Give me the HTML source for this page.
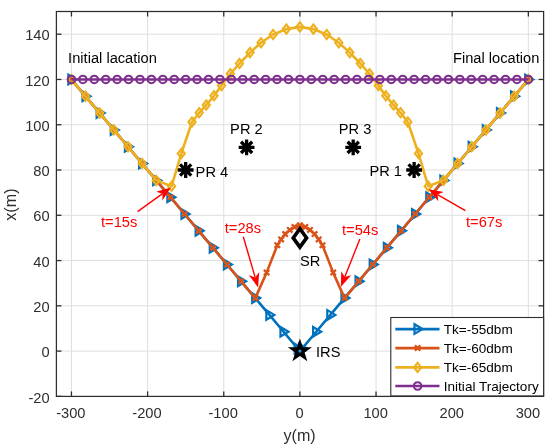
<!DOCTYPE html>
<html><head><meta charset="utf-8"><title>Trajectory</title>
<style>
html,body{margin:0;padding:0;background:#fff;}
svg{display:block}
text{font-family:"Liberation Sans",sans-serif;}
</style></head><body>
<svg width="550" height="445" viewBox="0 0 550 445">
<defs><clipPath id="ax"><rect x="50.4" y="11.5" width="499.20000000000005" height="384.9"/></clipPath></defs>
<rect width="550" height="445" fill="#fff"/>
<line x1="71.45" y1="11.5" x2="71.45" y2="396.4" stroke="#dfdfdf" stroke-width="1"/>
<line x1="147.60" y1="11.5" x2="147.60" y2="396.4" stroke="#dfdfdf" stroke-width="1"/>
<line x1="223.75" y1="11.5" x2="223.75" y2="396.4" stroke="#dfdfdf" stroke-width="1"/>
<line x1="299.90" y1="11.5" x2="299.90" y2="396.4" stroke="#dfdfdf" stroke-width="1"/>
<line x1="376.05" y1="11.5" x2="376.05" y2="396.4" stroke="#dfdfdf" stroke-width="1"/>
<line x1="452.20" y1="11.5" x2="452.20" y2="396.4" stroke="#dfdfdf" stroke-width="1"/>
<line x1="528.35" y1="11.5" x2="528.35" y2="396.4" stroke="#dfdfdf" stroke-width="1"/>
<line x1="56.4" y1="351.10" x2="543.6" y2="351.10" stroke="#dfdfdf" stroke-width="1"/>
<line x1="56.4" y1="305.83" x2="543.6" y2="305.83" stroke="#dfdfdf" stroke-width="1"/>
<line x1="56.4" y1="260.56" x2="543.6" y2="260.56" stroke="#dfdfdf" stroke-width="1"/>
<line x1="56.4" y1="215.28" x2="543.6" y2="215.28" stroke="#dfdfdf" stroke-width="1"/>
<line x1="56.4" y1="170.01" x2="543.6" y2="170.01" stroke="#dfdfdf" stroke-width="1"/>
<line x1="56.4" y1="124.74" x2="543.6" y2="124.74" stroke="#dfdfdf" stroke-width="1"/>
<line x1="56.4" y1="79.47" x2="543.6" y2="79.47" stroke="#dfdfdf" stroke-width="1"/>
<line x1="56.4" y1="34.20" x2="543.6" y2="34.20" stroke="#dfdfdf" stroke-width="1"/>
<g clip-path="url(#ax)">
<polyline points="71.45,79.47 85.59,96.29 99.73,113.11 113.87,129.92 128.01,146.74 142.16,163.56 156.30,180.38 170.44,197.20 184.58,214.02 198.72,230.83 212.86,247.65 227.00,264.47 241.14,281.29 255.28,298.11 269.42,314.93 283.57,331.75 297.71,348.56 299.90,351.10 302.09,348.56 316.23,331.75 330.38,314.93 344.52,298.11 358.66,281.29 372.80,264.47 386.94,247.65 401.08,230.83 415.22,214.02 429.36,197.20 443.50,180.38 457.64,163.56 471.79,146.74 485.93,129.92 500.07,113.11 514.21,96.29 528.35,79.47" fill="none" stroke="#0072BD" stroke-width="2.6" stroke-linejoin="round"/>
<path d="M68.35,74.67 L76.40,79.47 L68.35,84.27 Z" fill="none" stroke="#0072BD" stroke-width="2.2" stroke-linejoin="miter"/>
<path d="M82.49,91.49 L90.54,96.29 L82.49,101.09 Z" fill="none" stroke="#0072BD" stroke-width="2.2" stroke-linejoin="miter"/>
<path d="M96.63,108.31 L104.68,113.11 L96.63,117.91 Z" fill="none" stroke="#0072BD" stroke-width="2.2" stroke-linejoin="miter"/>
<path d="M110.77,125.12 L118.82,129.92 L110.77,134.72 Z" fill="none" stroke="#0072BD" stroke-width="2.2" stroke-linejoin="miter"/>
<path d="M124.91,141.94 L132.96,146.74 L124.91,151.54 Z" fill="none" stroke="#0072BD" stroke-width="2.2" stroke-linejoin="miter"/>
<path d="M139.06,158.76 L147.11,163.56 L139.06,168.36 Z" fill="none" stroke="#0072BD" stroke-width="2.2" stroke-linejoin="miter"/>
<path d="M153.20,175.58 L161.25,180.38 L153.20,185.18 Z" fill="none" stroke="#0072BD" stroke-width="2.2" stroke-linejoin="miter"/>
<path d="M167.34,192.40 L175.39,197.20 L167.34,202.00 Z" fill="none" stroke="#0072BD" stroke-width="2.2" stroke-linejoin="miter"/>
<path d="M181.48,209.22 L189.53,214.02 L181.48,218.82 Z" fill="none" stroke="#0072BD" stroke-width="2.2" stroke-linejoin="miter"/>
<path d="M195.62,226.03 L203.67,230.83 L195.62,235.63 Z" fill="none" stroke="#0072BD" stroke-width="2.2" stroke-linejoin="miter"/>
<path d="M209.76,242.85 L217.81,247.65 L209.76,252.45 Z" fill="none" stroke="#0072BD" stroke-width="2.2" stroke-linejoin="miter"/>
<path d="M223.90,259.67 L231.95,264.47 L223.90,269.27 Z" fill="none" stroke="#0072BD" stroke-width="2.2" stroke-linejoin="miter"/>
<path d="M238.04,276.49 L246.09,281.29 L238.04,286.09 Z" fill="none" stroke="#0072BD" stroke-width="2.2" stroke-linejoin="miter"/>
<path d="M252.18,293.31 L260.23,298.11 L252.18,302.91 Z" fill="none" stroke="#0072BD" stroke-width="2.2" stroke-linejoin="miter"/>
<path d="M266.32,310.13 L274.37,314.93 L266.32,319.73 Z" fill="none" stroke="#0072BD" stroke-width="2.2" stroke-linejoin="miter"/>
<path d="M280.47,326.95 L288.52,331.75 L280.47,336.55 Z" fill="none" stroke="#0072BD" stroke-width="2.2" stroke-linejoin="miter"/>
<path d="M294.61,343.76 L302.66,348.56 L294.61,353.36 Z" fill="none" stroke="#0072BD" stroke-width="2.2" stroke-linejoin="miter"/>
<path d="M296.80,346.30 L304.85,351.10 L296.80,355.90 Z" fill="none" stroke="#0072BD" stroke-width="2.2" stroke-linejoin="miter"/>
<path d="M298.99,343.76 L307.04,348.56 L298.99,353.36 Z" fill="none" stroke="#0072BD" stroke-width="2.2" stroke-linejoin="miter"/>
<path d="M313.13,326.95 L321.18,331.75 L313.13,336.55 Z" fill="none" stroke="#0072BD" stroke-width="2.2" stroke-linejoin="miter"/>
<path d="M327.28,310.13 L335.33,314.93 L327.28,319.73 Z" fill="none" stroke="#0072BD" stroke-width="2.2" stroke-linejoin="miter"/>
<path d="M341.42,293.31 L349.47,298.11 L341.42,302.91 Z" fill="none" stroke="#0072BD" stroke-width="2.2" stroke-linejoin="miter"/>
<path d="M355.56,276.49 L363.61,281.29 L355.56,286.09 Z" fill="none" stroke="#0072BD" stroke-width="2.2" stroke-linejoin="miter"/>
<path d="M369.70,259.67 L377.75,264.47 L369.70,269.27 Z" fill="none" stroke="#0072BD" stroke-width="2.2" stroke-linejoin="miter"/>
<path d="M383.84,242.85 L391.89,247.65 L383.84,252.45 Z" fill="none" stroke="#0072BD" stroke-width="2.2" stroke-linejoin="miter"/>
<path d="M397.98,226.03 L406.03,230.83 L397.98,235.63 Z" fill="none" stroke="#0072BD" stroke-width="2.2" stroke-linejoin="miter"/>
<path d="M412.12,209.22 L420.17,214.02 L412.12,218.82 Z" fill="none" stroke="#0072BD" stroke-width="2.2" stroke-linejoin="miter"/>
<path d="M426.26,192.40 L434.31,197.20 L426.26,202.00 Z" fill="none" stroke="#0072BD" stroke-width="2.2" stroke-linejoin="miter"/>
<path d="M440.40,175.58 L448.45,180.38 L440.40,185.18 Z" fill="none" stroke="#0072BD" stroke-width="2.2" stroke-linejoin="miter"/>
<path d="M454.54,158.76 L462.59,163.56 L454.54,168.36 Z" fill="none" stroke="#0072BD" stroke-width="2.2" stroke-linejoin="miter"/>
<path d="M468.69,141.94 L476.74,146.74 L468.69,151.54 Z" fill="none" stroke="#0072BD" stroke-width="2.2" stroke-linejoin="miter"/>
<path d="M482.83,125.12 L490.88,129.92 L482.83,134.72 Z" fill="none" stroke="#0072BD" stroke-width="2.2" stroke-linejoin="miter"/>
<path d="M496.97,108.31 L505.02,113.11 L496.97,117.91 Z" fill="none" stroke="#0072BD" stroke-width="2.2" stroke-linejoin="miter"/>
<path d="M511.11,91.49 L519.16,96.29 L511.11,101.09 Z" fill="none" stroke="#0072BD" stroke-width="2.2" stroke-linejoin="miter"/>
<path d="M525.25,74.67 L533.30,79.47 L525.25,84.27 Z" fill="none" stroke="#0072BD" stroke-width="2.2" stroke-linejoin="miter"/>
<polyline points="71.45,79.47 85.59,96.29 99.73,113.11 113.87,129.92 128.01,146.74 142.16,163.56 156.30,180.38 170.44,197.20 184.58,214.02 198.72,230.83 212.86,247.65 227.00,264.47 241.14,281.29 255.28,298.11 266.60,272.60 277.30,245.20 281.10,239.40 285.20,234.10 289.80,229.90 294.50,226.90 299.90,225.30 305.30,226.90 310.00,229.90 314.60,234.10 318.70,239.40 322.50,245.20 333.20,272.60 344.52,298.11 358.66,281.29 372.80,264.47 386.94,247.65 401.08,230.83 415.22,214.02 429.36,197.20 443.50,180.38 457.64,163.56 471.79,146.74 485.93,129.92 500.07,113.11 514.21,96.29 528.35,79.47" fill="none" stroke="#D95319" stroke-width="2.6" stroke-linejoin="round"/>
<path d="M68.75,76.77 L74.15,82.17 M68.75,82.17 L74.15,76.77" fill="none" stroke="#D95319" stroke-width="2.3"/>
<path d="M82.89,93.59 L88.29,98.99 M82.89,98.99 L88.29,93.59" fill="none" stroke="#D95319" stroke-width="2.3"/>
<path d="M97.03,110.41 L102.43,115.81 M97.03,115.81 L102.43,110.41" fill="none" stroke="#D95319" stroke-width="2.3"/>
<path d="M111.17,127.22 L116.57,132.62 M111.17,132.62 L116.57,127.22" fill="none" stroke="#D95319" stroke-width="2.3"/>
<path d="M125.31,144.04 L130.71,149.44 M125.31,149.44 L130.71,144.04" fill="none" stroke="#D95319" stroke-width="2.3"/>
<path d="M139.46,160.86 L144.86,166.26 M139.46,166.26 L144.86,160.86" fill="none" stroke="#D95319" stroke-width="2.3"/>
<path d="M153.60,177.68 L159.00,183.08 M153.60,183.08 L159.00,177.68" fill="none" stroke="#D95319" stroke-width="2.3"/>
<path d="M167.74,194.50 L173.14,199.90 M167.74,199.90 L173.14,194.50" fill="none" stroke="#D95319" stroke-width="2.3"/>
<path d="M181.88,211.32 L187.28,216.72 M181.88,216.72 L187.28,211.32" fill="none" stroke="#D95319" stroke-width="2.3"/>
<path d="M196.02,228.13 L201.42,233.53 M196.02,233.53 L201.42,228.13" fill="none" stroke="#D95319" stroke-width="2.3"/>
<path d="M210.16,244.95 L215.56,250.35 M210.16,250.35 L215.56,244.95" fill="none" stroke="#D95319" stroke-width="2.3"/>
<path d="M224.30,261.77 L229.70,267.17 M224.30,267.17 L229.70,261.77" fill="none" stroke="#D95319" stroke-width="2.3"/>
<path d="M238.44,278.59 L243.84,283.99 M238.44,283.99 L243.84,278.59" fill="none" stroke="#D95319" stroke-width="2.3"/>
<path d="M252.58,295.41 L257.98,300.81 M252.58,300.81 L257.98,295.41" fill="none" stroke="#D95319" stroke-width="2.3"/>
<path d="M263.90,269.90 L269.30,275.30 M263.90,275.30 L269.30,269.90" fill="none" stroke="#D95319" stroke-width="2.3"/>
<path d="M274.60,242.50 L280.00,247.90 M274.60,247.90 L280.00,242.50" fill="none" stroke="#D95319" stroke-width="2.3"/>
<path d="M278.40,236.70 L283.80,242.10 M278.40,242.10 L283.80,236.70" fill="none" stroke="#D95319" stroke-width="2.3"/>
<path d="M282.50,231.40 L287.90,236.80 M282.50,236.80 L287.90,231.40" fill="none" stroke="#D95319" stroke-width="2.3"/>
<path d="M287.10,227.20 L292.50,232.60 M287.10,232.60 L292.50,227.20" fill="none" stroke="#D95319" stroke-width="2.3"/>
<path d="M291.80,224.20 L297.20,229.60 M291.80,229.60 L297.20,224.20" fill="none" stroke="#D95319" stroke-width="2.3"/>
<path d="M297.20,222.60 L302.60,228.00 M297.20,228.00 L302.60,222.60" fill="none" stroke="#D95319" stroke-width="2.3"/>
<path d="M302.60,224.20 L308.00,229.60 M302.60,229.60 L308.00,224.20" fill="none" stroke="#D95319" stroke-width="2.3"/>
<path d="M307.30,227.20 L312.70,232.60 M307.30,232.60 L312.70,227.20" fill="none" stroke="#D95319" stroke-width="2.3"/>
<path d="M311.90,231.40 L317.30,236.80 M311.90,236.80 L317.30,231.40" fill="none" stroke="#D95319" stroke-width="2.3"/>
<path d="M316.00,236.70 L321.40,242.10 M316.00,242.10 L321.40,236.70" fill="none" stroke="#D95319" stroke-width="2.3"/>
<path d="M319.80,242.50 L325.20,247.90 M319.80,247.90 L325.20,242.50" fill="none" stroke="#D95319" stroke-width="2.3"/>
<path d="M330.50,269.90 L335.90,275.30 M330.50,275.30 L335.90,269.90" fill="none" stroke="#D95319" stroke-width="2.3"/>
<path d="M341.82,295.41 L347.22,300.81 M341.82,300.81 L347.22,295.41" fill="none" stroke="#D95319" stroke-width="2.3"/>
<path d="M355.96,278.59 L361.36,283.99 M355.96,283.99 L361.36,278.59" fill="none" stroke="#D95319" stroke-width="2.3"/>
<path d="M370.10,261.77 L375.50,267.17 M370.10,267.17 L375.50,261.77" fill="none" stroke="#D95319" stroke-width="2.3"/>
<path d="M384.24,244.95 L389.64,250.35 M384.24,250.35 L389.64,244.95" fill="none" stroke="#D95319" stroke-width="2.3"/>
<path d="M398.38,228.13 L403.78,233.53 M398.38,233.53 L403.78,228.13" fill="none" stroke="#D95319" stroke-width="2.3"/>
<path d="M412.52,211.32 L417.92,216.72 M412.52,216.72 L417.92,211.32" fill="none" stroke="#D95319" stroke-width="2.3"/>
<path d="M426.66,194.50 L432.06,199.90 M426.66,199.90 L432.06,194.50" fill="none" stroke="#D95319" stroke-width="2.3"/>
<path d="M440.80,177.68 L446.20,183.08 M440.80,183.08 L446.20,177.68" fill="none" stroke="#D95319" stroke-width="2.3"/>
<path d="M454.94,160.86 L460.34,166.26 M454.94,166.26 L460.34,160.86" fill="none" stroke="#D95319" stroke-width="2.3"/>
<path d="M469.09,144.04 L474.49,149.44 M469.09,149.44 L474.49,144.04" fill="none" stroke="#D95319" stroke-width="2.3"/>
<path d="M483.23,127.22 L488.63,132.62 M483.23,132.62 L488.63,127.22" fill="none" stroke="#D95319" stroke-width="2.3"/>
<path d="M497.37,110.41 L502.77,115.81 M497.37,115.81 L502.77,110.41" fill="none" stroke="#D95319" stroke-width="2.3"/>
<path d="M511.51,93.59 L516.91,98.99 M511.51,98.99 L516.91,93.59" fill="none" stroke="#D95319" stroke-width="2.3"/>
<path d="M525.65,76.77 L531.05,82.17 M525.65,82.17 L531.05,76.77" fill="none" stroke="#D95319" stroke-width="2.3"/>
<polyline points="71.45,79.47 85.59,96.29 99.73,113.11 113.87,129.92 128.01,146.74 142.16,163.56 156.30,180.38 171.60,186.20 181.30,153.50 192.00,122.00 199.20,112.80 206.30,105.00 214.00,95.80 221.50,85.60 230.30,73.80 239.50,63.50 250.00,52.60 261.00,42.80 273.10,34.50 286.40,29.10 299.90,26.90 313.40,29.10 326.70,34.50 338.80,42.80 349.80,52.60 360.30,63.50 369.50,73.80 378.30,85.60 385.80,95.80 393.50,105.00 400.60,112.80 407.80,122.00 418.50,153.50 428.20,186.20 443.50,180.38 457.64,163.56 471.79,146.74 485.93,129.92 500.07,113.11 514.21,96.29 528.35,79.47" fill="none" stroke="#EDB120" stroke-width="2.6" stroke-linejoin="round"/>
<path d="M71.45,74.87 L75.05,79.47 L71.45,84.07 L67.85,79.47 Z" fill="none" stroke="#EDB120" stroke-width="2.1" stroke-linejoin="miter"/>
<path d="M85.59,91.69 L89.19,96.29 L85.59,100.89 L81.99,96.29 Z" fill="none" stroke="#EDB120" stroke-width="2.1" stroke-linejoin="miter"/>
<path d="M99.73,108.51 L103.33,113.11 L99.73,117.71 L96.13,113.11 Z" fill="none" stroke="#EDB120" stroke-width="2.1" stroke-linejoin="miter"/>
<path d="M113.87,125.32 L117.47,129.92 L113.87,134.52 L110.27,129.92 Z" fill="none" stroke="#EDB120" stroke-width="2.1" stroke-linejoin="miter"/>
<path d="M128.01,142.14 L131.61,146.74 L128.01,151.34 L124.41,146.74 Z" fill="none" stroke="#EDB120" stroke-width="2.1" stroke-linejoin="miter"/>
<path d="M142.16,158.96 L145.76,163.56 L142.16,168.16 L138.56,163.56 Z" fill="none" stroke="#EDB120" stroke-width="2.1" stroke-linejoin="miter"/>
<path d="M156.30,175.78 L159.90,180.38 L156.30,184.98 L152.70,180.38 Z" fill="none" stroke="#EDB120" stroke-width="2.1" stroke-linejoin="miter"/>
<path d="M171.60,181.60 L175.20,186.20 L171.60,190.80 L168.00,186.20 Z" fill="none" stroke="#EDB120" stroke-width="2.1" stroke-linejoin="miter"/>
<path d="M181.30,148.90 L184.90,153.50 L181.30,158.10 L177.70,153.50 Z" fill="none" stroke="#EDB120" stroke-width="2.1" stroke-linejoin="miter"/>
<path d="M192.00,117.40 L195.60,122.00 L192.00,126.60 L188.40,122.00 Z" fill="none" stroke="#EDB120" stroke-width="2.1" stroke-linejoin="miter"/>
<path d="M199.20,108.20 L202.80,112.80 L199.20,117.40 L195.60,112.80 Z" fill="none" stroke="#EDB120" stroke-width="2.1" stroke-linejoin="miter"/>
<path d="M206.30,100.40 L209.90,105.00 L206.30,109.60 L202.70,105.00 Z" fill="none" stroke="#EDB120" stroke-width="2.1" stroke-linejoin="miter"/>
<path d="M214.00,91.20 L217.60,95.80 L214.00,100.40 L210.40,95.80 Z" fill="none" stroke="#EDB120" stroke-width="2.1" stroke-linejoin="miter"/>
<path d="M221.50,81.00 L225.10,85.60 L221.50,90.20 L217.90,85.60 Z" fill="none" stroke="#EDB120" stroke-width="2.1" stroke-linejoin="miter"/>
<path d="M230.30,69.20 L233.90,73.80 L230.30,78.40 L226.70,73.80 Z" fill="none" stroke="#EDB120" stroke-width="2.1" stroke-linejoin="miter"/>
<path d="M239.50,58.90 L243.10,63.50 L239.50,68.10 L235.90,63.50 Z" fill="none" stroke="#EDB120" stroke-width="2.1" stroke-linejoin="miter"/>
<path d="M250.00,48.00 L253.60,52.60 L250.00,57.20 L246.40,52.60 Z" fill="none" stroke="#EDB120" stroke-width="2.1" stroke-linejoin="miter"/>
<path d="M261.00,38.20 L264.60,42.80 L261.00,47.40 L257.40,42.80 Z" fill="none" stroke="#EDB120" stroke-width="2.1" stroke-linejoin="miter"/>
<path d="M273.10,29.90 L276.70,34.50 L273.10,39.10 L269.50,34.50 Z" fill="none" stroke="#EDB120" stroke-width="2.1" stroke-linejoin="miter"/>
<path d="M286.40,24.50 L290.00,29.10 L286.40,33.70 L282.80,29.10 Z" fill="none" stroke="#EDB120" stroke-width="2.1" stroke-linejoin="miter"/>
<path d="M299.90,22.30 L303.50,26.90 L299.90,31.50 L296.30,26.90 Z" fill="none" stroke="#EDB120" stroke-width="2.1" stroke-linejoin="miter"/>
<path d="M313.40,24.50 L317.00,29.10 L313.40,33.70 L309.80,29.10 Z" fill="none" stroke="#EDB120" stroke-width="2.1" stroke-linejoin="miter"/>
<path d="M326.70,29.90 L330.30,34.50 L326.70,39.10 L323.10,34.50 Z" fill="none" stroke="#EDB120" stroke-width="2.1" stroke-linejoin="miter"/>
<path d="M338.80,38.20 L342.40,42.80 L338.80,47.40 L335.20,42.80 Z" fill="none" stroke="#EDB120" stroke-width="2.1" stroke-linejoin="miter"/>
<path d="M349.80,48.00 L353.40,52.60 L349.80,57.20 L346.20,52.60 Z" fill="none" stroke="#EDB120" stroke-width="2.1" stroke-linejoin="miter"/>
<path d="M360.30,58.90 L363.90,63.50 L360.30,68.10 L356.70,63.50 Z" fill="none" stroke="#EDB120" stroke-width="2.1" stroke-linejoin="miter"/>
<path d="M369.50,69.20 L373.10,73.80 L369.50,78.40 L365.90,73.80 Z" fill="none" stroke="#EDB120" stroke-width="2.1" stroke-linejoin="miter"/>
<path d="M378.30,81.00 L381.90,85.60 L378.30,90.20 L374.70,85.60 Z" fill="none" stroke="#EDB120" stroke-width="2.1" stroke-linejoin="miter"/>
<path d="M385.80,91.20 L389.40,95.80 L385.80,100.40 L382.20,95.80 Z" fill="none" stroke="#EDB120" stroke-width="2.1" stroke-linejoin="miter"/>
<path d="M393.50,100.40 L397.10,105.00 L393.50,109.60 L389.90,105.00 Z" fill="none" stroke="#EDB120" stroke-width="2.1" stroke-linejoin="miter"/>
<path d="M400.60,108.20 L404.20,112.80 L400.60,117.40 L397.00,112.80 Z" fill="none" stroke="#EDB120" stroke-width="2.1" stroke-linejoin="miter"/>
<path d="M407.80,117.40 L411.40,122.00 L407.80,126.60 L404.20,122.00 Z" fill="none" stroke="#EDB120" stroke-width="2.1" stroke-linejoin="miter"/>
<path d="M418.50,148.90 L422.10,153.50 L418.50,158.10 L414.90,153.50 Z" fill="none" stroke="#EDB120" stroke-width="2.1" stroke-linejoin="miter"/>
<path d="M428.20,181.60 L431.80,186.20 L428.20,190.80 L424.60,186.20 Z" fill="none" stroke="#EDB120" stroke-width="2.1" stroke-linejoin="miter"/>
<path d="M443.50,175.78 L447.10,180.38 L443.50,184.98 L439.90,180.38 Z" fill="none" stroke="#EDB120" stroke-width="2.1" stroke-linejoin="miter"/>
<path d="M457.64,158.96 L461.24,163.56 L457.64,168.16 L454.04,163.56 Z" fill="none" stroke="#EDB120" stroke-width="2.1" stroke-linejoin="miter"/>
<path d="M471.79,142.14 L475.39,146.74 L471.79,151.34 L468.19,146.74 Z" fill="none" stroke="#EDB120" stroke-width="2.1" stroke-linejoin="miter"/>
<path d="M485.93,125.32 L489.53,129.92 L485.93,134.52 L482.33,129.92 Z" fill="none" stroke="#EDB120" stroke-width="2.1" stroke-linejoin="miter"/>
<path d="M500.07,108.51 L503.67,113.11 L500.07,117.71 L496.47,113.11 Z" fill="none" stroke="#EDB120" stroke-width="2.1" stroke-linejoin="miter"/>
<path d="M514.21,91.69 L517.81,96.29 L514.21,100.89 L510.61,96.29 Z" fill="none" stroke="#EDB120" stroke-width="2.1" stroke-linejoin="miter"/>
<path d="M528.35,74.87 L531.95,79.47 L528.35,84.07 L524.75,79.47 Z" fill="none" stroke="#EDB120" stroke-width="2.1" stroke-linejoin="miter"/>
<polyline points="71.45,79.47 82.87,79.47 94.29,79.47 105.72,79.47 117.14,79.47 128.56,79.47 139.98,79.47 151.41,79.47 162.83,79.47 174.25,79.47 185.67,79.47 197.10,79.47 208.52,79.47 219.94,79.47 231.36,79.47 242.79,79.47 254.21,79.47 265.63,79.47 277.05,79.47 288.48,79.47 299.90,79.47 311.32,79.47 322.75,79.47 334.17,79.47 345.59,79.47 357.01,79.47 368.43,79.47 379.86,79.47 391.28,79.47 402.70,79.47 414.12,79.47 425.55,79.47 436.97,79.47 448.39,79.47 459.81,79.47 471.24,79.47 482.66,79.47 494.08,79.47 505.50,79.47 516.93,79.47 528.35,79.47" fill="none" stroke="#7E2F8E" stroke-width="2.6" stroke-linejoin="round"/>
<circle cx="71.45" cy="79.47" r="3.75" fill="none" stroke="#7E2F8E" stroke-width="2.1"/>
<circle cx="82.87" cy="79.47" r="3.75" fill="none" stroke="#7E2F8E" stroke-width="2.1"/>
<circle cx="94.29" cy="79.47" r="3.75" fill="none" stroke="#7E2F8E" stroke-width="2.1"/>
<circle cx="105.72" cy="79.47" r="3.75" fill="none" stroke="#7E2F8E" stroke-width="2.1"/>
<circle cx="117.14" cy="79.47" r="3.75" fill="none" stroke="#7E2F8E" stroke-width="2.1"/>
<circle cx="128.56" cy="79.47" r="3.75" fill="none" stroke="#7E2F8E" stroke-width="2.1"/>
<circle cx="139.98" cy="79.47" r="3.75" fill="none" stroke="#7E2F8E" stroke-width="2.1"/>
<circle cx="151.41" cy="79.47" r="3.75" fill="none" stroke="#7E2F8E" stroke-width="2.1"/>
<circle cx="162.83" cy="79.47" r="3.75" fill="none" stroke="#7E2F8E" stroke-width="2.1"/>
<circle cx="174.25" cy="79.47" r="3.75" fill="none" stroke="#7E2F8E" stroke-width="2.1"/>
<circle cx="185.67" cy="79.47" r="3.75" fill="none" stroke="#7E2F8E" stroke-width="2.1"/>
<circle cx="197.10" cy="79.47" r="3.75" fill="none" stroke="#7E2F8E" stroke-width="2.1"/>
<circle cx="208.52" cy="79.47" r="3.75" fill="none" stroke="#7E2F8E" stroke-width="2.1"/>
<circle cx="219.94" cy="79.47" r="3.75" fill="none" stroke="#7E2F8E" stroke-width="2.1"/>
<circle cx="231.36" cy="79.47" r="3.75" fill="none" stroke="#7E2F8E" stroke-width="2.1"/>
<circle cx="242.79" cy="79.47" r="3.75" fill="none" stroke="#7E2F8E" stroke-width="2.1"/>
<circle cx="254.21" cy="79.47" r="3.75" fill="none" stroke="#7E2F8E" stroke-width="2.1"/>
<circle cx="265.63" cy="79.47" r="3.75" fill="none" stroke="#7E2F8E" stroke-width="2.1"/>
<circle cx="277.05" cy="79.47" r="3.75" fill="none" stroke="#7E2F8E" stroke-width="2.1"/>
<circle cx="288.48" cy="79.47" r="3.75" fill="none" stroke="#7E2F8E" stroke-width="2.1"/>
<circle cx="299.90" cy="79.47" r="3.75" fill="none" stroke="#7E2F8E" stroke-width="2.1"/>
<circle cx="311.32" cy="79.47" r="3.75" fill="none" stroke="#7E2F8E" stroke-width="2.1"/>
<circle cx="322.75" cy="79.47" r="3.75" fill="none" stroke="#7E2F8E" stroke-width="2.1"/>
<circle cx="334.17" cy="79.47" r="3.75" fill="none" stroke="#7E2F8E" stroke-width="2.1"/>
<circle cx="345.59" cy="79.47" r="3.75" fill="none" stroke="#7E2F8E" stroke-width="2.1"/>
<circle cx="357.01" cy="79.47" r="3.75" fill="none" stroke="#7E2F8E" stroke-width="2.1"/>
<circle cx="368.43" cy="79.47" r="3.75" fill="none" stroke="#7E2F8E" stroke-width="2.1"/>
<circle cx="379.86" cy="79.47" r="3.75" fill="none" stroke="#7E2F8E" stroke-width="2.1"/>
<circle cx="391.28" cy="79.47" r="3.75" fill="none" stroke="#7E2F8E" stroke-width="2.1"/>
<circle cx="402.70" cy="79.47" r="3.75" fill="none" stroke="#7E2F8E" stroke-width="2.1"/>
<circle cx="414.12" cy="79.47" r="3.75" fill="none" stroke="#7E2F8E" stroke-width="2.1"/>
<circle cx="425.55" cy="79.47" r="3.75" fill="none" stroke="#7E2F8E" stroke-width="2.1"/>
<circle cx="436.97" cy="79.47" r="3.75" fill="none" stroke="#7E2F8E" stroke-width="2.1"/>
<circle cx="448.39" cy="79.47" r="3.75" fill="none" stroke="#7E2F8E" stroke-width="2.1"/>
<circle cx="459.81" cy="79.47" r="3.75" fill="none" stroke="#7E2F8E" stroke-width="2.1"/>
<circle cx="471.24" cy="79.47" r="3.75" fill="none" stroke="#7E2F8E" stroke-width="2.1"/>
<circle cx="482.66" cy="79.47" r="3.75" fill="none" stroke="#7E2F8E" stroke-width="2.1"/>
<circle cx="494.08" cy="79.47" r="3.75" fill="none" stroke="#7E2F8E" stroke-width="2.1"/>
<circle cx="505.50" cy="79.47" r="3.75" fill="none" stroke="#7E2F8E" stroke-width="2.1"/>
<circle cx="516.93" cy="79.47" r="3.75" fill="none" stroke="#7E2F8E" stroke-width="2.1"/>
<circle cx="528.35" cy="79.47" r="3.75" fill="none" stroke="#7E2F8E" stroke-width="2.1"/>
</g>
<rect x="56.4" y="11.5" width="487.20" height="384.90" fill="none" stroke="#2e2e2e" stroke-width="1.25"/>
<line x1="71.45" y1="396.4" x2="71.45" y2="391.4" stroke="#2e2e2e" stroke-width="1.3"/>
<line x1="71.45" y1="11.5" x2="71.45" y2="16.5" stroke="#2e2e2e" stroke-width="1.3"/>
<text transform="translate(70.85,417.80) scale(1,1)" text-anchor="middle" font-size="14.67" fill="#2e2e2e">-300</text>
<line x1="147.60" y1="396.4" x2="147.60" y2="391.4" stroke="#2e2e2e" stroke-width="1.3"/>
<line x1="147.60" y1="11.5" x2="147.60" y2="16.5" stroke="#2e2e2e" stroke-width="1.3"/>
<text transform="translate(147.00,417.80) scale(1,1)" text-anchor="middle" font-size="14.67" fill="#2e2e2e">-200</text>
<line x1="223.75" y1="396.4" x2="223.75" y2="391.4" stroke="#2e2e2e" stroke-width="1.3"/>
<line x1="223.75" y1="11.5" x2="223.75" y2="16.5" stroke="#2e2e2e" stroke-width="1.3"/>
<text transform="translate(223.15,417.80) scale(1,1)" text-anchor="middle" font-size="14.67" fill="#2e2e2e">-100</text>
<line x1="299.90" y1="396.4" x2="299.90" y2="391.4" stroke="#2e2e2e" stroke-width="1.3"/>
<line x1="299.90" y1="11.5" x2="299.90" y2="16.5" stroke="#2e2e2e" stroke-width="1.3"/>
<text transform="translate(299.50,417.80) scale(1,1)" text-anchor="middle" font-size="14.67" fill="#2e2e2e">0</text>
<line x1="376.05" y1="396.4" x2="376.05" y2="391.4" stroke="#2e2e2e" stroke-width="1.3"/>
<line x1="376.05" y1="11.5" x2="376.05" y2="16.5" stroke="#2e2e2e" stroke-width="1.3"/>
<text transform="translate(375.65,417.80) scale(1,1)" text-anchor="middle" font-size="14.67" fill="#2e2e2e">100</text>
<line x1="452.20" y1="396.4" x2="452.20" y2="391.4" stroke="#2e2e2e" stroke-width="1.3"/>
<line x1="452.20" y1="11.5" x2="452.20" y2="16.5" stroke="#2e2e2e" stroke-width="1.3"/>
<text transform="translate(451.80,417.80) scale(1,1)" text-anchor="middle" font-size="14.67" fill="#2e2e2e">200</text>
<line x1="528.35" y1="396.4" x2="528.35" y2="391.4" stroke="#2e2e2e" stroke-width="1.3"/>
<line x1="528.35" y1="11.5" x2="528.35" y2="16.5" stroke="#2e2e2e" stroke-width="1.3"/>
<text transform="translate(527.95,417.80) scale(1,1)" text-anchor="middle" font-size="14.67" fill="#2e2e2e">300</text>
<line x1="56.4" y1="396.37" x2="61.4" y2="396.37" stroke="#2e2e2e" stroke-width="1.3"/>
<line x1="543.6" y1="396.37" x2="538.6" y2="396.37" stroke="#2e2e2e" stroke-width="1.3"/>
<text transform="translate(49.60,402.57) scale(1,1)" text-anchor="end" font-size="14.67" fill="#2e2e2e">-20</text>
<line x1="56.4" y1="351.10" x2="61.4" y2="351.10" stroke="#2e2e2e" stroke-width="1.3"/>
<line x1="543.6" y1="351.10" x2="538.6" y2="351.10" stroke="#2e2e2e" stroke-width="1.3"/>
<text transform="translate(49.60,357.30) scale(1,1)" text-anchor="end" font-size="14.67" fill="#2e2e2e">0</text>
<line x1="56.4" y1="305.83" x2="61.4" y2="305.83" stroke="#2e2e2e" stroke-width="1.3"/>
<line x1="543.6" y1="305.83" x2="538.6" y2="305.83" stroke="#2e2e2e" stroke-width="1.3"/>
<text transform="translate(49.60,312.03) scale(1,1)" text-anchor="end" font-size="14.67" fill="#2e2e2e">20</text>
<line x1="56.4" y1="260.56" x2="61.4" y2="260.56" stroke="#2e2e2e" stroke-width="1.3"/>
<line x1="543.6" y1="260.56" x2="538.6" y2="260.56" stroke="#2e2e2e" stroke-width="1.3"/>
<text transform="translate(49.60,266.76) scale(1,1)" text-anchor="end" font-size="14.67" fill="#2e2e2e">40</text>
<line x1="56.4" y1="215.28" x2="61.4" y2="215.28" stroke="#2e2e2e" stroke-width="1.3"/>
<line x1="543.6" y1="215.28" x2="538.6" y2="215.28" stroke="#2e2e2e" stroke-width="1.3"/>
<text transform="translate(49.60,221.48) scale(1,1)" text-anchor="end" font-size="14.67" fill="#2e2e2e">60</text>
<line x1="56.4" y1="170.01" x2="61.4" y2="170.01" stroke="#2e2e2e" stroke-width="1.3"/>
<line x1="543.6" y1="170.01" x2="538.6" y2="170.01" stroke="#2e2e2e" stroke-width="1.3"/>
<text transform="translate(49.60,176.21) scale(1,1)" text-anchor="end" font-size="14.67" fill="#2e2e2e">80</text>
<line x1="56.4" y1="124.74" x2="61.4" y2="124.74" stroke="#2e2e2e" stroke-width="1.3"/>
<line x1="543.6" y1="124.74" x2="538.6" y2="124.74" stroke="#2e2e2e" stroke-width="1.3"/>
<text transform="translate(49.60,130.94) scale(1,1)" text-anchor="end" font-size="14.67" fill="#2e2e2e">100</text>
<line x1="56.4" y1="79.47" x2="61.4" y2="79.47" stroke="#2e2e2e" stroke-width="1.3"/>
<line x1="543.6" y1="79.47" x2="538.6" y2="79.47" stroke="#2e2e2e" stroke-width="1.3"/>
<text transform="translate(49.60,85.67) scale(1,1)" text-anchor="end" font-size="14.67" fill="#2e2e2e">120</text>
<line x1="56.4" y1="34.20" x2="61.4" y2="34.20" stroke="#2e2e2e" stroke-width="1.3"/>
<line x1="543.6" y1="34.20" x2="538.6" y2="34.20" stroke="#2e2e2e" stroke-width="1.3"/>
<text transform="translate(49.60,40.40) scale(1,1)" text-anchor="end" font-size="14.67" fill="#2e2e2e">140</text>
<text transform="translate(299.60,440.50) scale(1,1)" text-anchor="middle" font-size="16.1" fill="#2e2e2e">y(m)</text>
<text transform="translate(16.00,204.60) rotate(-90) scale(1,1)" text-anchor="middle" font-size="16.1" fill="#2e2e2e">x(m)</text>
<path d="M406.23,170.01 L422.02,170.01 M408.54,164.43 L419.71,175.60 M414.12,162.11 L414.12,177.91 M419.71,164.43 L408.54,175.60" stroke="#000" stroke-width="3.3" fill="none"/>
<path d="M177.77,170.01 L193.57,170.01 M180.09,164.43 L191.26,175.60 M185.67,162.11 L185.67,177.91 M191.26,164.43 L180.09,175.60" stroke="#000" stroke-width="3.3" fill="none"/>
<path d="M238.69,147.38 L254.49,147.38 M241.01,141.79 L252.18,152.96 M246.59,139.48 L246.59,155.28 M252.18,141.79 L241.01,152.96" stroke="#000" stroke-width="3.3" fill="none"/>
<path d="M345.31,147.38 L361.10,147.38 M347.62,141.79 L358.79,152.96 M353.20,139.48 L353.20,155.28 M358.79,141.79 L347.62,152.96" stroke="#000" stroke-width="3.3" fill="none"/>
<path d="M299.9,228.72000000000003 L306.59999999999997,237.92000000000002 L299.9,247.12 L293.2,237.92000000000002 Z" fill="none" stroke="#000" stroke-width="3.6" stroke-linejoin="miter"/>
<polygon points="299.90,338.40 302.78,347.14 311.98,347.18 304.56,352.61 307.36,361.37 299.90,356.00 292.44,361.37 295.24,352.61 287.82,347.18 297.02,347.14" fill="#000"/>
<circle cx="299.9" cy="351.1" r="1.6" fill="#2f8fdc"/>
<text transform="translate(68.10,63.20) scale(1,1)" text-anchor="start" font-size="14.67" fill="#000">Initial lacation</text>
<text transform="translate(453.00,63.30) scale(1,1)" text-anchor="start" font-size="14.67" fill="#000">Final location</text>
<text transform="translate(230.10,134.00) scale(1,1)" text-anchor="start" font-size="14.67" fill="#000">PR 2</text>
<text transform="translate(338.80,134.30) scale(1,1)" text-anchor="start" font-size="14.67" fill="#000">PR 3</text>
<text transform="translate(195.60,176.50) scale(1,1)" text-anchor="start" font-size="14.67" fill="#000">PR 4</text>
<text transform="translate(369.40,175.80) scale(1,1)" text-anchor="start" font-size="14.67" fill="#000">PR 1</text>
<text transform="translate(300.00,266.00) scale(1,1)" text-anchor="start" font-size="14.67" fill="#000">SR</text>
<text transform="translate(316.00,357.00) scale(1,1)" text-anchor="start" font-size="14.67" fill="#000">IRS</text>
<text transform="translate(101.00,226.60) scale(1,1)" text-anchor="start" font-size="14.67" fill="#f00">t=15s</text>
<text transform="translate(224.80,232.80) scale(1,1)" text-anchor="start" font-size="14.67" fill="#f00">t=28s</text>
<text transform="translate(342.00,234.60) scale(1,1)" text-anchor="start" font-size="14.67" fill="#f00">t=54s</text>
<text transform="translate(466.00,226.50) scale(1,1)" text-anchor="start" font-size="14.67" fill="#f00">t=67s</text>
<line x1="137.6" y1="211.6" x2="162.52" y2="193.69" stroke="#f00" stroke-width="1.4"/>
<polygon points="171.00,187.60 156.07,191.68 162.52,193.69 162.38,200.45" fill="#f00"/>
<line x1="243.3" y1="236.8" x2="255.17" y2="277.38" stroke="#f00" stroke-width="1.4"/>
<polygon points="258.10,287.40 259.21,271.97 255.17,277.38 248.85,275.00" fill="#f00"/>
<line x1="359.9" y1="238.9" x2="344.75" y2="277.10" stroke="#f00" stroke-width="1.4"/>
<polygon points="340.90,286.80 351.27,275.31 344.75,277.10 341.23,271.33" fill="#f00"/>
<line x1="465.4" y1="210.7" x2="437.53" y2="194.54" stroke="#f00" stroke-width="1.4"/>
<polygon points="428.50,189.30 438.33,201.25 437.53,194.54 443.75,191.90" fill="#f00"/>
<rect x="390.8" y="317.5" width="152.80" height="78.40" fill="#fff" stroke="#2e2e2e" stroke-width="1.1"/>
<line x1="395.3" y1="329.1" x2="439.5" y2="329.1" stroke="#0072BD" stroke-width="2.6"/>
<path d="M414.50,324.30 L422.55,329.10 L414.50,333.90 Z" fill="none" stroke="#0072BD" stroke-width="2.2" stroke-linejoin="miter"/>
<text transform="translate(443.80,334.00) scale(1,1)" text-anchor="start" font-size="13.55" fill="#000">Tk=-55dbm</text>
<line x1="395.3" y1="348.1" x2="439.5" y2="348.1" stroke="#D95319" stroke-width="2.6"/>
<path d="M414.90,345.40 L420.30,350.80 M414.90,350.80 L420.30,345.40" fill="none" stroke="#D95319" stroke-width="2.3"/>
<text transform="translate(443.80,353.00) scale(1,1)" text-anchor="start" font-size="13.55" fill="#000">Tk=-60dbm</text>
<line x1="395.3" y1="367.4" x2="439.5" y2="367.4" stroke="#EDB120" stroke-width="2.6"/>
<path d="M417.60,362.80 L421.20,367.40 L417.60,372.00 L414.00,367.40 Z" fill="none" stroke="#EDB120" stroke-width="2.1" stroke-linejoin="miter"/>
<text transform="translate(443.80,372.30) scale(1,1)" text-anchor="start" font-size="13.55" fill="#000">Tk=-65dbm</text>
<line x1="395.3" y1="386.0" x2="439.5" y2="386.0" stroke="#7E2F8E" stroke-width="2.6"/>
<circle cx="417.60" cy="386.00" r="3.75" fill="none" stroke="#7E2F8E" stroke-width="2.1"/>
<text transform="translate(443.80,390.90) scale(1,1)" text-anchor="start" font-size="13.55" fill="#000">Initial Trajectory</text>
</svg>
</body></html>
